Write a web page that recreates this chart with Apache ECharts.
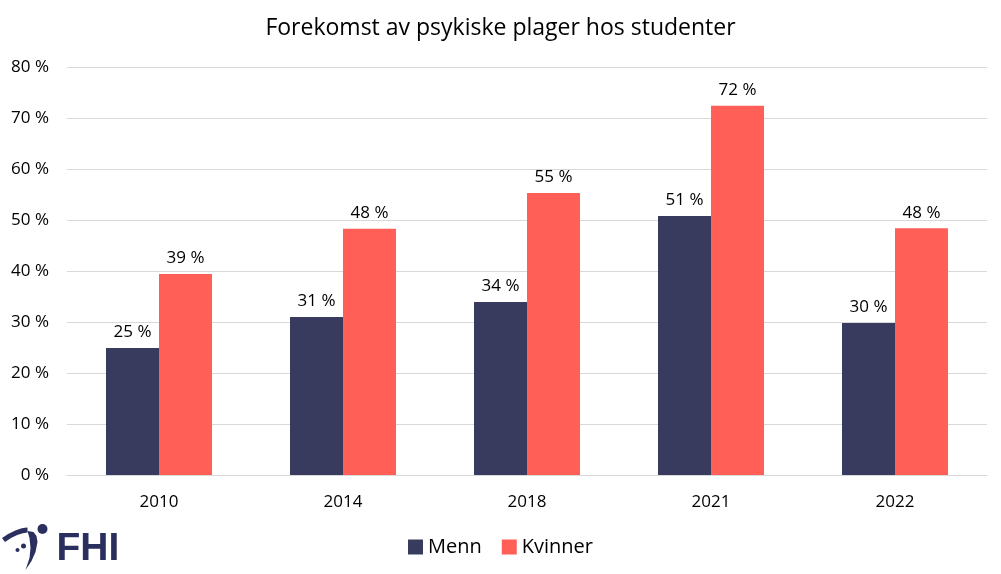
<!DOCTYPE html>
<html><head><meta charset="utf-8">
<script src="https://cdn.jsdelivr.net/npm/echarts@6/dist/echarts.min.js"></script>
<style>html,body{margin:0;padding:0;background:#fff}#c{width:1001px;height:574px}</style>
</head><body><div id="c"></div>
<script>
var categories = ['2010','2014','2018','2021','2022'];
var menn = [24.9, 31.0, 33.9, 50.8, 29.8];
var kvinner = [39.4, 48.3, 55.3, 72.4, 48.4];
var seriesNames = ['Menn','Kvinner'];
var FONT = '"Open Sans", "Noto Sans", sans-serif';
var chart = echarts.init(document.getElementById('c'));
var lbl = {show:true, position:'top', distance:7, color:'#000', fontSize:17, fontFamily:FONT,
  formatter:function(p){return Math.round(p.value)+' %';}};
chart.setOption({
  animation:false,
  title:{text:'Forekomst av psykiske plager hos studenter', left:'center', top:12,
    textStyle:{fontFamily:FONT, fontWeight:'normal', fontSize:23, color:'#000'}},
  legend:{bottom:12, left:'center', itemWidth:15, itemHeight:15, itemGap:20, icon:'rect',
    textStyle:{fontFamily:FONT, fontSize:20, color:'#000'}, data:seriesNames},
  grid:{left:67, right:14, top:67, bottom:99, containLabel:false},
  xAxis:{type:'category', data:categories,
    axisLine:{lineStyle:{color:'#d9d9d9'}}, axisTick:{show:false},
    axisLabel:{color:'#000', fontSize:17, fontFamily:FONT, margin:19}},
  yAxis:{type:'value', min:0, max:80, interval:10,
    axisLine:{show:false}, axisTick:{show:false},
    splitLine:{lineStyle:{color:'#d9d9d9'}},
    axisLabel:{color:'#000', fontSize:17, fontFamily:FONT, margin:18, formatter:'{value} %'}},
  series:[
    {name:seriesNames[0], type:'bar', data:menn, barWidth:53, barGap:'0%', itemStyle:{color:'#393B5E'}, label:lbl},
    {name:seriesNames[1], type:'bar', data:kvinner, barWidth:53, itemStyle:{color:'#FF5F56'}, label:lbl}
  ],
  graphic:[
    {type:'group', left:1, top:524, children:[
      {type:'bezierCurve', shape:{x1:0,y1:17,x2:24,y2:7,cpx1:8,cpy1:11,cpx2:18,cpy2:7}, style:{stroke:'#2B2F5E', lineWidth:5, fill:null}},
      {type:'circle', shape:{cx:39, cy:6, r:5}, style:{fill:'#2B2F5E'}},
      {type:'polygon', shape:{points:[[24,8],[30,9],[33,13],[34,19],[32,29],[28,38],[22,47],[26,35],[27,25],[26,15]]}, style:{fill:'#2B2F5E'}},
      {type:'circle', shape:{cx:20, cy:23, r:2.5}, style:{fill:'#2B2F5E'}},
      {type:'circle', shape:{cx:14, cy:27, r:2}, style:{fill:'#2B2F5E'}},
      {type:'text', x:53, y:7, style:{text:'FHI', fill:'#2B2F5E', font:'bold 39px "Liberation Sans", sans-serif'}}
    ]}
  ]
});
</script></body></html>
